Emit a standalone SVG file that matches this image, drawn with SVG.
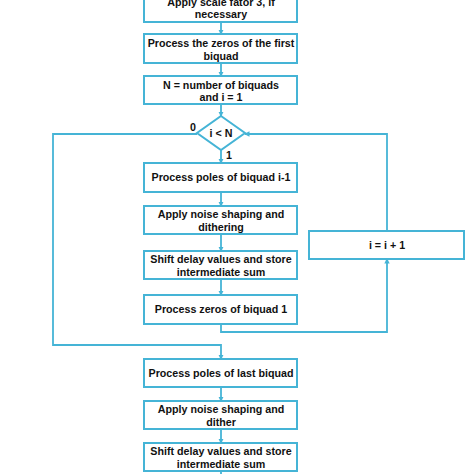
<svg xmlns="http://www.w3.org/2000/svg" width="474" height="474" viewBox="0 0 474 474">
<defs>
<style>
.box{fill:#fff;stroke:#45b4d6;stroke-width:2}
.ln{fill:none;stroke:#45b4d6;stroke-width:1.8}
.t{font-family:"Liberation Sans",Arial,sans-serif;font-weight:bold;font-size:10.7px;fill:#111;text-anchor:middle}
</style>
<marker id="ah" viewBox="0 0 6 6" refX="5" refY="3" markerWidth="3" markerHeight="3" orient="auto">
<path d="M0,0 L6,3 L0,6 z" fill="#45b4d6"/>
</marker>
</defs>
<rect width="474" height="474" fill="#fff"/>
<g id="connectors">
<line class="ln" x1="221" y1="22" x2="221" y2="34" marker-end="url(#ah)"/>
<line class="ln" x1="221" y1="63" x2="221" y2="76" marker-end="url(#ah)"/>
<line class="ln" x1="221" y1="104" x2="221" y2="116" marker-end="url(#ah)"/>
<line class="ln" x1="221" y1="150" x2="221" y2="163" marker-end="url(#ah)"/>
<line class="ln" x1="221" y1="192" x2="221" y2="206" marker-end="url(#ah)"/>
<line class="ln" x1="221" y1="234" x2="221" y2="251" marker-end="url(#ah)"/>
<line class="ln" x1="221" y1="279" x2="221" y2="295" marker-end="url(#ah)"/>
<polyline class="ln" points="221,324 221,332 387,332 387,259" marker-end="url(#ah)"/>
<polyline class="ln" points="387,231 387,134 245,134" marker-end="url(#ah)"/>
<polyline class="ln" points="197,134 53,134 53,345 221,345 221,359" marker-end="url(#ah)"/>
<line class="ln" x1="221" y1="387" x2="221" y2="401" marker-end="url(#ah)"/>
<line class="ln" x1="221" y1="429" x2="221" y2="443" marker-end="url(#ah)"/>
<line class="ln" x1="221" y1="471" x2="221" y2="474"/>
</g>
<g id="n1"><rect class="box" x="144" y="-8" width="153" height="30"/>
<text class="t" x="221" y="6">Apply scale fator 3, if</text><text class="t" x="221" y="18">necessary</text></g>
<g id="n2"><rect class="box" x="144" y="34" width="153" height="29"/>
<text class="t" x="221" y="47">Process the zeros of the first</text><text class="t" x="221" y="60">biquad</text></g>
<g id="n3"><rect class="box" x="144" y="76" width="153" height="28"/>
<text class="t" x="221" y="89">N = number of biquads</text><text class="t" x="221" y="101">and i = 1</text></g>
<g id="d1"><polygon class="box" points="221,116 245,133 221,150 197,133"/>
<text class="t" x="221" y="137">i &lt; N</text></g>
<text class="t" x="193" y="131">0</text>
<text class="t" x="229" y="159">1</text>
<g id="n4"><rect class="box" x="144" y="163" width="153" height="29"/>
<text class="t" x="221" y="181">Process poles of biquad i-1</text></g>
<g id="n5"><rect class="box" x="144" y="206" width="153" height="28"/>
<text class="t" x="221" y="218">Apply noise shaping and</text><text class="t" x="221" y="231">dithering</text></g>
<g id="n6"><rect class="box" x="144" y="251" width="153" height="28"/>
<text class="t" x="221" y="263">Shift delay values and store</text><text class="t" x="221" y="276">intermediate sum</text></g>
<g id="n7"><rect class="box" x="144" y="295" width="153" height="29"/>
<text class="t" x="221" y="313">Process zeros of biquad 1</text></g>
<g id="n8"><rect class="box" x="309" y="231" width="155" height="28"/>
<text class="t" x="387" y="249">i = i + 1</text></g>
<g id="n9"><rect class="box" x="144" y="359" width="153" height="28"/>
<text class="t" x="221" y="377">Process poles of last biquad</text></g>
<g id="n10"><rect class="box" x="144" y="401" width="153" height="28"/>
<text class="t" x="221" y="413">Apply noise shaping and</text><text class="t" x="221" y="426">dither</text></g>
<g id="n11"><rect class="box" x="144" y="443" width="153" height="28"/>
<text class="t" x="221" y="455">Shift delay values and store</text><text class="t" x="221" y="468">intermediate sum</text></g>
</svg>
